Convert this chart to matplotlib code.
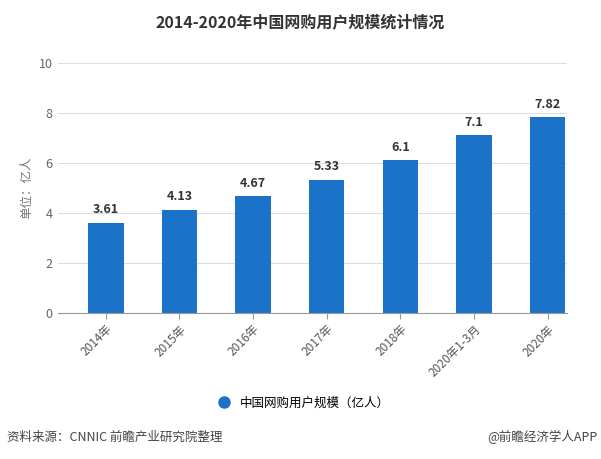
import matplotlib
matplotlib.use('Agg')
import matplotlib.pyplot as plt
from matplotlib.lines import Line2D

plt.rcParams['font.family'] = ['Noto Sans CJK SC', 'DejaVu Sans']

categories = ['2014年', '2015年', '2016年', '2017年', '2018年', '2020年1-3月', '2020年']
values = [3.61, 4.13, 4.67, 5.33, 6.1, 7.1, 7.82]
value_labels = ['3.61', '4.13', '4.67', '5.33', '6.1', '7.1', '7.82']
yticks = [0, 2, 4, 6, 8, 10]

bar_color = '#1a73c8'

fig = plt.figure(figsize=(6.01, 4.59), dpi=100)
ax = fig.add_axes([0.0965, 0.318, 0.8465, 0.545])

x = range(len(categories))
ax.bar(x, values, width=0.48, color=bar_color, zorder=3)
for i, v in enumerate(values):
    ax.text(i, v + 0.25, value_labels[i], ha='center', va='bottom',
            fontsize=9, fontweight='bold', color='#333333', zorder=4)

ax.set_xlim(-0.65, 6.26)
ax.set_ylim(0, 10)
ax.set_yticks(yticks)
ax.set_yticklabels([str(t) for t in yticks], fontsize=9, color='#666666')
ax.set_xticks(list(x))
ax.set_xticklabels(categories, rotation=45, ha='right', rotation_mode='anchor',
                   fontsize=8.5, color='#555555')
ax.tick_params(axis='y', length=0, pad=4)
ax.tick_params(axis='x', length=4, color='#999999', pad=3)
ax.grid(axis='y', color='#dddddd', linewidth=0.8, zorder=0)
for s in ['top', 'right', 'left']:
    ax.spines[s].set_visible(False)
ax.spines['bottom'].set_color('#999999')
ax.spines['bottom'].set_zorder(5)

ax.set_ylabel('单位：亿人', fontsize=9, color='#777777', labelpad=4)

fig.text(0.5, 0.952, '2014-2020年中国网购用户规模统计情况', ha='center', va='center',
         fontsize=11.5, fontweight='bold', color='#333333')

handle = Line2D([], [], marker='o', linestyle='none', markersize=8,
                markerfacecolor=bar_color, markeredgecolor=bar_color)
fig.legend([handle], ['中国网购用户规模（亿人）'], loc='center', bbox_to_anchor=(0.5, 0.122),
           frameon=False, fontsize=9, handletextpad=0.3)

fig.text(0.012, 0.048, '资料来源：CNNIC 前瞻产业研究院整理', ha='left', va='center',
         fontsize=9, color='#444444')
fig.text(0.995, 0.048, '@前瞻经济学人APP', ha='right', va='center',
         fontsize=9, color='#444444')

fig.savefig('out.png', dpi=100)
